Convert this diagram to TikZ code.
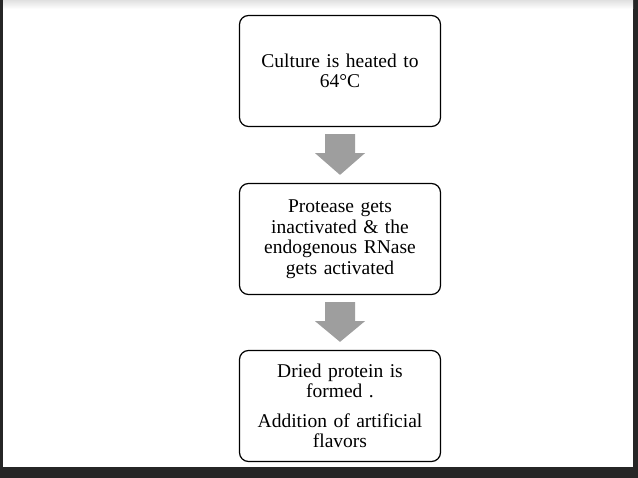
\documentclass[tikz,border=0pt]{standalone}
\usepackage{fontspec}
\setmainfont{Liberation Serif}
\usetikzlibrary{calc}
\tikzset{
	stepbox/.style={draw, line width=1.2pt, rounded corners=9pt, minimum width=201pt, minimum height=111pt, text width=190pt, align=center, font=\fontsize{19.5}{20.5}\selectfont},
	blockarrow/.style={fill=black!38}
}
\begin{document}
\begin{tikzpicture}[x=1pt, y=-1pt]
	% slide frame
	\fill [black!85] (0,0) rectangle (638,478);
	\fill [white] (3,0) rectangle (633,467);
	\shade [top color=black!12, bottom color=white] (3,0) rectangle (633,9);
	\useasboundingbox (0,0) rectangle (638,478);

	\node [stepbox] (box1) at (340,71) {Culture is heated to\\ 64°C};
	\node [stepbox] (box2) at (340,239) {Protease gets\\ inactivated \& the\\ endogenous RNase\\ gets activated};
	\node [stepbox] (box3) at (340,406) {Dried protein is\\ formed .\\[9pt] Addition of artificial\\ flavors};

	\foreach \a/\b in {box1/box2, box2/box3}
		\fill [blockarrow] ($(\a.south)+(-15,7)$) -- ++(30,0) -- ++(0,19) -- ++(10,0)
			-- ($(\b.north)+(0,-8)$) -- ($(\a.south)+(-25,26)$) -- ++(10,0) -- cycle;

\end{tikzpicture}
\end{document}
